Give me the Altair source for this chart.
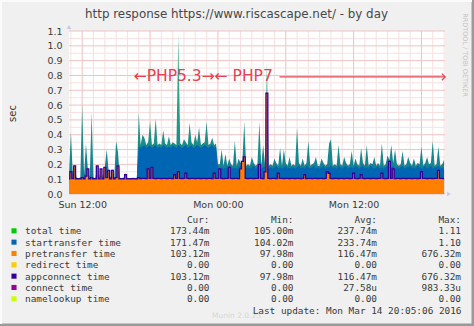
import altair as alt
import pandas as pd

# ---------------- data ----------------
chart_title = "http response https://www.riscascape.net/ - by day"
y_title = "sec"

# time axis: hours counted from Sun 00:00; samples every 10 minutes from Sun 10:50
start_hour = 10 + 50 / 60
step_hours = 10 / 60
x_domain = [10 + 50 / 60, 44 + 5 / 60]
x_tick_hours = [12, 24, 36]
x_tick_labels = ["Sun 12:00", "Mon 00:00", "Mon 12:00"]
x_minor_grid = [11, 13, 14, 15, 16, 17, 19, 20, 21, 22, 23, 25, 26, 27, 28, 29,
                31, 32, 33, 34, 35, 37, 38, 39, 40, 41, 43, 44]
x_major_grid = [12, 18, 24, 30, 36, 42]

y_domain = [0, 1.1]
y_ticks = [0.0, 0.1, 0.2, 0.3, 0.4, 0.5, 0.6, 0.7, 0.8, 0.9, 1.0, 1.1]
y_minor_grid = [0.05, 0.15, 0.25, 0.35, 0.45, 0.55, 0.65, 0.75, 0.85, 0.95, 1.05]

total_time = [
    0.13, 0.42, 0.14, 0.20, 0.109, 0.108, 0.109, 0.60, 0.13, 0.34,
    0.17, 0.108, 0.55, 0.109, 0.108, 0.19, 0.109, 0.17, 0.109, 0.18,
    0.30, 0.16, 0.109, 0.17, 0.109, 0.36, 0.28, 0.109, 0.108, 0.109,
    0.14, 0.108, 0.107, 0.108, 0.109, 0.108, 0.109, 0.55, 0.33, 0.40,
    0.38, 0.33, 0.35, 0.49, 0.33, 0.34, 0.51, 0.33, 0.34, 0.33,
    0.43, 0.34, 0.33, 0.39, 0.33, 0.35, 0.34, 0.33, 1.08, 0.34,
    0.33, 0.37, 0.35, 0.33, 0.48, 0.35, 0.33, 0.40, 0.35, 0.45,
    0.33, 0.34, 0.35, 0.49, 0.33, 0.34, 0.38, 0.33, 0.34, 0.20,
    0.20, 0.30, 0.19, 0.27, 0.19, 0.24, 0.20, 0.19, 0.36, 0.19,
    0.24, 0.21, 0.23, 0.49, 0.19, 0.20, 0.19, 0.25, 0.21, 0.19,
    0.20, 0.49, 0.19, 0.33, 0.20, 0.88, 0.19, 0.20, 0.19, 0.24,
    0.21, 0.19, 0.31, 0.19, 0.30, 0.21, 0.19, 0.25, 0.19, 0.20,
    0.19, 0.45, 0.21, 0.19, 0.24, 0.19, 0.21, 0.36, 0.19, 0.20,
    0.21, 0.25, 0.19, 0.19, 0.24, 0.21, 0.19, 0.20, 0.34, 0.37,
    0.19, 0.20, 0.19, 0.33, 0.20, 0.19, 0.25, 0.21, 0.19, 0.20,
    0.29, 0.19, 0.24, 0.20, 0.19, 0.31, 0.21, 0.19, 0.33, 0.19,
    0.21, 0.20, 0.25, 0.19, 0.21, 0.19, 0.34, 0.19, 0.20, 0.26,
    0.23, 0.33, 0.21, 0.30, 0.20, 0.19, 0.20, 0.29, 0.19, 0.20,
    0.25, 0.21, 0.19, 0.24, 0.19, 0.21, 0.20, 0.32, 0.19, 0.21,
    0.25, 0.20, 0.21, 0.36, 0.19, 0.20, 0.32, 0.19, 0.20, 0.23,
]

startransfer_time = [
    0.108, 0.115, 0.108, 0.12, 0.108, 0.106, 0.108, 0.112, 0.108, 0.115,
    0.11, 0.106, 0.112, 0.108, 0.106, 0.12, 0.108, 0.11, 0.108, 0.115,
    0.112, 0.11, 0.108, 0.11, 0.108, 0.112, 0.12, 0.108, 0.106, 0.108,
    0.11, 0.106, 0.105, 0.106, 0.108, 0.106, 0.108, 0.32, 0.31, 0.32,
    0.33, 0.31, 0.32, 0.33, 0.31, 0.32, 0.33, 0.31, 0.32, 0.31,
    0.33, 0.32, 0.31, 0.32, 0.31, 0.33, 0.32, 0.31, 0.33, 0.32,
    0.31, 0.32, 0.33, 0.31, 0.32, 0.33, 0.31, 0.32, 0.33, 0.32,
    0.31, 0.32, 0.33, 0.32, 0.31, 0.32, 0.33, 0.31, 0.32, 0.18,
    0.17, 0.18, 0.17, 0.18, 0.17, 0.19, 0.18, 0.17, 0.18, 0.17,
    0.18, 0.19, 0.18, 0.19, 0.17, 0.18, 0.17, 0.18, 0.19, 0.17,
    0.18, 0.19, 0.17, 0.18, 0.18, 0.19, 0.17, 0.18, 0.17, 0.18,
    0.19, 0.17, 0.18, 0.17, 0.18, 0.19, 0.17, 0.18, 0.17, 0.18,
    0.17, 0.18, 0.19, 0.17, 0.18, 0.17, 0.19, 0.18, 0.17, 0.18,
    0.19, 0.17, 0.18, 0.17, 0.18, 0.19, 0.17, 0.18, 0.18, 0.19,
    0.17, 0.18, 0.17, 0.19, 0.18, 0.17, 0.18, 0.19, 0.17, 0.18,
    0.18, 0.17, 0.19, 0.18, 0.17, 0.18, 0.19, 0.17, 0.18, 0.17,
    0.19, 0.18, 0.17, 0.18, 0.19, 0.17, 0.18, 0.17, 0.18, 0.19,
    0.17, 0.18, 0.19, 0.17, 0.18, 0.17, 0.18, 0.19, 0.17, 0.18,
    0.18, 0.19, 0.17, 0.18, 0.17, 0.19, 0.18, 0.17, 0.18, 0.19,
    0.17, 0.18, 0.19, 0.17, 0.18, 0.18, 0.19, 0.17, 0.18, 0.17,
]

appconnect_time = [
    0.103, 0.15, 0.104, 0.19, 0.103, 0.102, 0.103, 0.11, 0.103, 0.12,
    0.17, 0.103, 0.11, 0.103, 0.102, 0.19, 0.103, 0.17, 0.103, 0.18,
    0.11, 0.16, 0.103, 0.16, 0.103, 0.11, 0.19, 0.103, 0.102, 0.103,
    0.13, 0.103, 0.102, 0.103, 0.103, 0.102, 0.103, 0.11, 0.104, 0.105,
    0.105, 0.104, 0.17, 0.105, 0.18, 0.105, 0.104, 0.105, 0.105, 0.104,
    0.105, 0.105, 0.104, 0.105, 0.105, 0.104, 0.13, 0.105, 0.15, 0.105,
    0.104, 0.105, 0.14, 0.105, 0.104, 0.105, 0.105, 0.104, 0.105, 0.105,
    0.104, 0.105, 0.105, 0.104, 0.105, 0.105, 0.104, 0.14, 0.105, 0.105,
    0.17, 0.105, 0.104, 0.105, 0.105, 0.18, 0.105, 0.104, 0.105, 0.105,
    0.104, 0.17, 0.22, 0.25, 0.105, 0.104, 0.105, 0.105, 0.104, 0.105,
    0.105, 0.20, 0.105, 0.104, 0.15, 0.68, 0.105, 0.104, 0.105, 0.105,
    0.104, 0.14, 0.105, 0.105, 0.104, 0.105, 0.105, 0.104, 0.105, 0.105,
    0.104, 0.105, 0.105, 0.104, 0.105, 0.13, 0.104, 0.105, 0.105, 0.104,
    0.105, 0.105, 0.104, 0.105, 0.105, 0.104, 0.105, 0.15, 0.14, 0.105,
    0.104, 0.105, 0.105, 0.104, 0.105, 0.105, 0.104, 0.105, 0.105, 0.104,
    0.105, 0.14, 0.105, 0.104, 0.105, 0.13, 0.105, 0.104, 0.105, 0.105,
    0.104, 0.105, 0.105, 0.104, 0.105, 0.105, 0.14, 0.105, 0.104, 0.105,
    0.22, 0.105, 0.17, 0.104, 0.105, 0.105, 0.104, 0.105, 0.105, 0.104,
    0.105, 0.105, 0.104, 0.105, 0.105, 0.104, 0.105, 0.15, 0.105, 0.105,
    0.104, 0.105, 0.105, 0.104, 0.105, 0.105, 0.16, 0.105, 0.105, 0.104,
]
# pretransfer equals appconnect over the whole period (same legend figures)
pretransfer_time = list(appconnect_time)

series_names = ["total time", "startransfer time", "pretransfer time", "redirect time",
                "appconnect time", "connect time", "namelookup time"]
series_colors = ["#00cc00", "#0066b3", "#ff8000", "#ffcc00", "#330099", "#990099", "#ccff00"]
cur_vals = ["173.44m", "171.47m", "103.12m", "0.00", "103.12m", "0.00", "0.00"]
min_vals = ["105.00m", "104.02m", "97.98m", "0.00", "97.98m", "0.00", "0.00"]
avg_vals = ["237.74m", "233.74m", "116.47m", "0.00", "116.47m", "27.58u", "0.00"]
max_vals = ["1.11", "1.10", "676.32m", "0.00", "676.32m", "983.33u", "0.00"]
col_headers = ["Cur:", "Min:", "Avg:", "Max:"]
last_update = "Last update: Mon Mar 14 20:05:06 2016"
footer_text = "Munin 2.0.25"
side_text = "RRDTOOL / TOBI OETIKER"

note_text = "\u2190PHP5.3\u2192\u2190 PHP7"
note_h, note_v = 16.55, 0.795
arrow_h = [29.45, 44.1]
arrow_v = [0.79, 0.79]

# ---------------- layout / style ----------------
OX, OY = 69, 31          # plot origin in the page
W, H = 376, 163
TXT = "#3a3a3a"
RED = "#e8404f"
NB = "\u00a0"
ROW0 = 219.5             # page y of the header row centre
ROWH = 11.33

n = len(total_time)
hours = [start_hour + i * step_hours for i in range(n)]
df = pd.DataFrame({"h": hours, "total": total_time, "start": startransfer_time,
                   "pre": pretransfer_time, "app": appconnect_time})

label_expr = "''"
for hh, lab in reversed(list(zip(x_tick_hours, x_tick_labels))):
    label_expr = f"datum.value == {hh} ? '{lab}' : {label_expr}"

xscale = alt.Scale(domain=x_domain, nice=False, zero=False)
yscale = alt.Scale(domain=y_domain, nice=False, zero=True)
xaxis = alt.Axis(values=x_tick_hours, labelExpr=label_expr, title=None, grid=False,
                 ticks=False, domain=False, labelFontSize=9.5, labelColor=TXT,
                 labelFont="DejaVu Sans", labelPadding=5, labelFlush=False)
yaxis = alt.Axis(values=y_ticks, format=".1f", grid=False, ticks=False, domain=False,
                 labelFontSize=9.5, labelColor=TXT, labelFont="DejaVu Sans", labelPadding=7,
                 title=y_title, titleFontSize=10, titleFontWeight="normal", titleColor=TXT,
                 titleFont="DejaVu Sans", titleAngle=270, titleX=12 - OX, titleY=113 - OY,
                 titleAlign="center", titleBaseline="middle")


def X(f):
    return alt.X(f"{f}:Q", scale=xscale, axis=xaxis)


def Y(f):
    return alt.Y(f"{f}:Q", scale=yscale, axis=yaxis)


one = pd.DataFrame({"k": [0]})
layers = []

# grid
MINOR, MAJOR = "#f8e0e0", "#f1c2c2"
layers.append(alt.Chart(pd.DataFrame({"h": x_minor_grid})).mark_rule(color=MINOR, strokeWidth=1).encode(x=X("h")))
layers.append(alt.Chart(pd.DataFrame({"v": y_minor_grid})).mark_rule(color=MINOR, strokeWidth=1).encode(y=Y("v")))
layers.append(alt.Chart(pd.DataFrame({"h": x_major_grid})).mark_rule(color=MAJOR, strokeWidth=1).encode(x=X("h")))
layers.append(alt.Chart(pd.DataFrame({"v": y_ticks})).mark_rule(color=MAJOR, strokeWidth=1).encode(y=Y("v")))

teal = alt.Gradient(gradient="linear", x1=1, x2=1, y1=1, y2=0,
                    stops=[alt.GradientStop(color="#0f74a2", offset=0),
                           alt.GradientStop(color="#1a8c88", offset=0.3),
                           alt.GradientStop(color="#2aa283", offset=0.6),
                           alt.GradientStop(color="#4cc08a", offset=1)])
base = alt.Chart(df)
layers.append(base.mark_area(color=teal).encode(x=X("h"), y=Y("total")))
layers.append(base.mark_area(color="#0066b3").encode(x=X("h"), y=Y("start")))
layers.append(base.mark_area(color="#ff8000", interpolate="step").encode(x=X("h"), y=Y("pre")))
layers.append(base.mark_line(color="#330099", strokeWidth=1.3, interpolate="step").encode(x=X("h"), y=Y("app")))

# axis arrows (rrdtool style)
ARROW = "#c9c9e6"
layers.append(alt.Chart(one).mark_point(shape="triangle-up", size=22, filled=True, color=ARROW, opacity=1).encode(
    x=alt.value(0), y=alt.value(-4)))
layers.append(alt.Chart(one).mark_point(shape="triangle-right", size=22, filled=True, color=ARROW, opacity=1).encode(
    x=alt.value(W + 4), y=alt.value(H)))

# annotation
layers.append(alt.Chart(pd.DataFrame({"h": [note_h], "v": [note_v], "t": [note_text]})).mark_text(
    align="left", baseline="middle", fontSize=15.5, color=RED, font="DejaVu Sans").encode(
    x=X("h"), y=Y("v"), text="t:N"))
arrow_df = pd.DataFrame({"h": arrow_h, "v": arrow_v})
layers.append(alt.Chart(arrow_df).mark_line(color=RED, strokeWidth=1.2).encode(x=X("h"), y=Y("v")))
layers.append(alt.Chart(arrow_df.tail(1)).mark_point(
    shape="M -1 -1 L 0 0 L -1 1", size=45, filled=False, color=RED, strokeWidth=1.2, opacity=1).encode(
    x=X("h"), y=Y("v")))

# title and side texts
layers.append(alt.Chart(one).mark_text(text=chart_title, align="center", baseline="alphabetic",
                                       fontSize=11.9, color="#484848", font="DejaVu Sans").encode(
    x=alt.value(236.5 - OX), y=alt.value(17.5 - OY)))
layers.append(alt.Chart(one).mark_text(text=side_text, align="center", baseline="middle", angle=90,
                                       fontSize=6.5, color="#c4c4c4", font="DejaVu Sans").encode(
    x=alt.value(465 - OX), y=alt.value(55 - OY)))
layers.append(alt.Chart(one).mark_text(text=footer_text, align="center", baseline="middle",
                                       fontSize=7.5, color="#d6d6d6", font="DejaVu Sans").encode(
    x=alt.value(236.5 - OX), y=alt.value(316 - OY)))

# legend table
mono = dict(font="DejaVu Sans Mono", fontSize=9.4, color=TXT, baseline="alphabetic", lineHeight=ROWH)
first_base = ROW0 + 3.4 - OY
layers.append(alt.Chart(one).mark_text(text=[NB] + series_names, align="left", **mono).encode(
    x=alt.value(25 - OX), y=alt.value(first_base)))
col_right = [209.5, 293.5, 377, 461]
for head, vals, xr in zip(col_headers, [cur_vals, min_vals, avg_vals, max_vals], col_right):
    lines = [head + NB + NB] + [v if v[-1] in "mu" else v + NB for v in vals]
    layers.append(alt.Chart(one).mark_text(text=lines, align="right", **mono).encode(
        x=alt.value(xr - OX), y=alt.value(first_base)))
layers.append(alt.Chart(one).mark_text(text=last_update, align="right", **mono).encode(
    x=alt.value(461.5 - OX), y=alt.value(ROW0 + 8 * ROWH + 3.4 - OY)))
for k, c in enumerate(series_colors):
    layers.append(alt.Chart(one).mark_square(size=26, color=c, opacity=1).encode(
        x=alt.value(14 - OX), y=alt.value(ROW0 + (k + 1) * ROWH - OY)))

# frame bevel
layers.append(alt.Chart(one).mark_rule(color="#9a9a9a", strokeWidth=2.5).encode(
    x=alt.value(474 - 1.25 - OX), y=alt.value(-OY), y2=alt.value(326 - OY)))
layers.append(alt.Chart(one).mark_rule(color="#9a9a9a", strokeWidth=2.5).encode(
    x=alt.value(-OX), x2=alt.value(474 - OX), y=alt.value(326 - 1.25 - OY)))
layers.append(alt.Chart(one).mark_rule(color="#fbfbfb", strokeWidth=2).encode(
    x=alt.value(1 - OX), y=alt.value(-OY), y2=alt.value(324 - OY)))
layers.append(alt.Chart(one).mark_rule(color="#fbfbfb", strokeWidth=2).encode(
    x=alt.value(-OX), x2=alt.value(472 - OX), y=alt.value(1 - OY)))

chart = alt.layer(*layers).properties(
    width=W, height=H,
    padding={"left": OX, "top": OY, "right": 474 - OX - W, "bottom": 326 - OY - H},
    autosize=alt.AutoSizeParams(type="none"),
    background="#f0f0f0",
).configure_view(fill="white", stroke=None)

chart.save("out.html", embed_options={"renderer": "svg", "actions": False})
